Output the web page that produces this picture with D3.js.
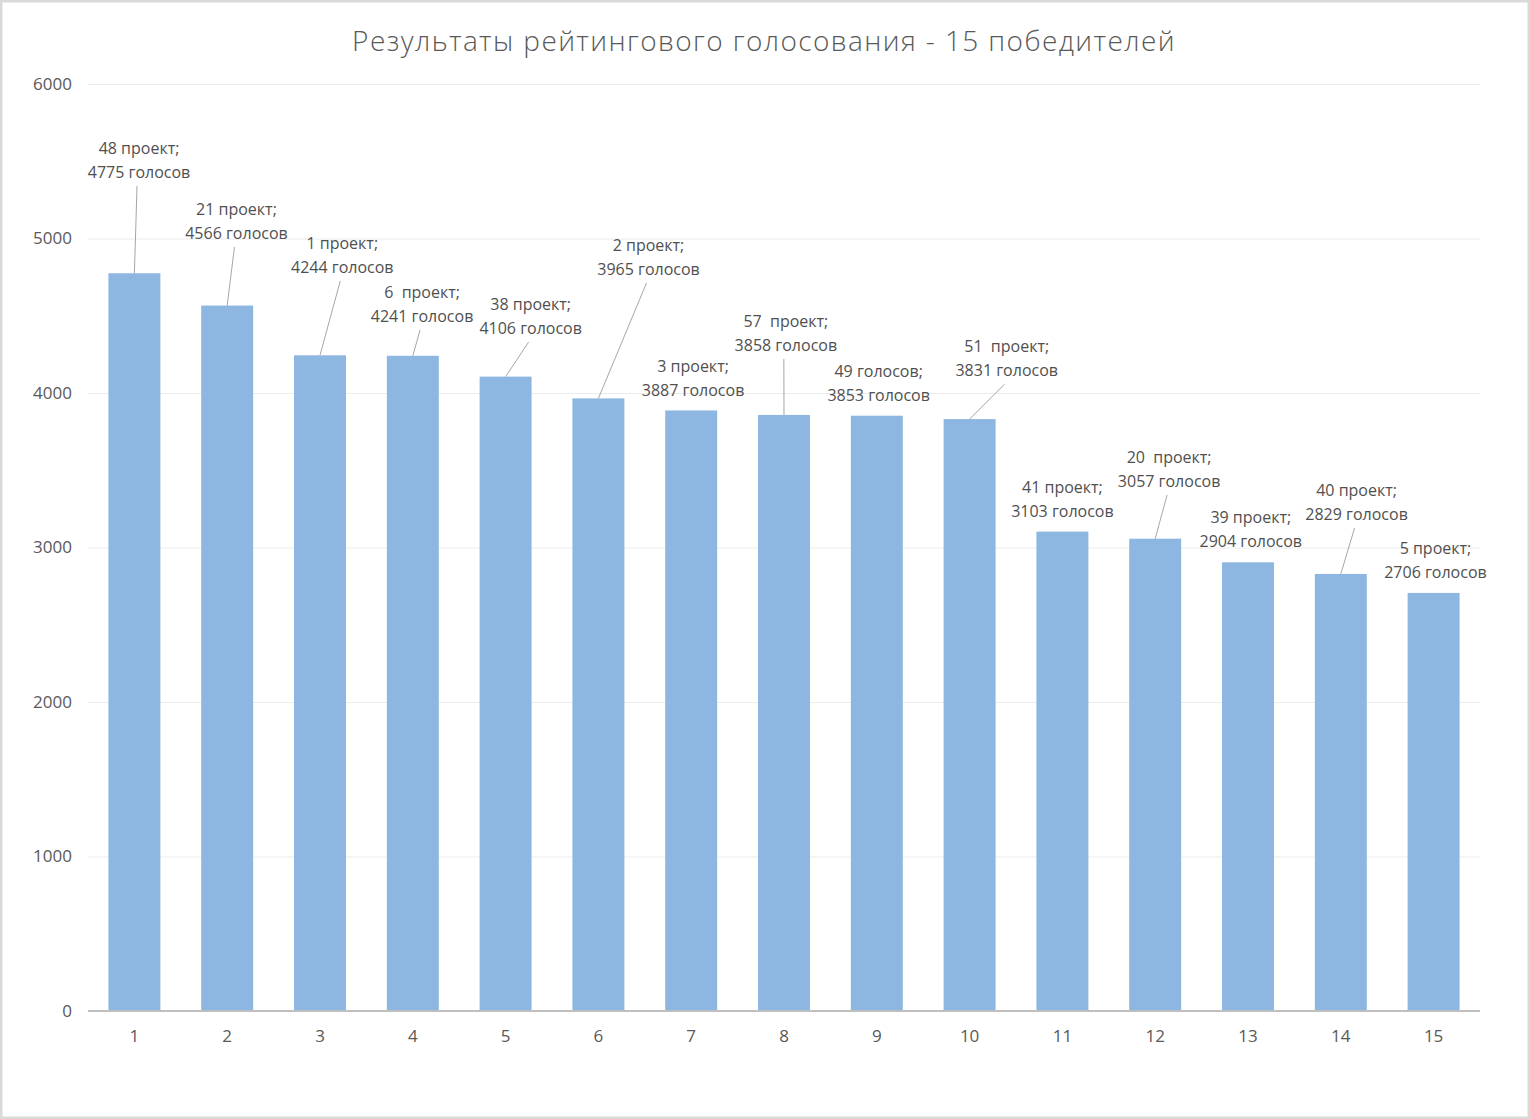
<!DOCTYPE html>
<html>
<head>
<meta charset="utf-8">
<script src="https://cdn.jsdelivr.net/npm/d3@7"></script>
<style>
  html, body { margin: 0; padding: 0; background: #ffffff; }
  svg { display: block; }
  text { font-family: "Open Sans", "Liberation Sans", sans-serif; }
</style>
</head>
<body>
<svg id="chart" width="1530" height="1119"></svg>
<script>
// ---- data ----
const titleText = "Результаты рейтингового голосования - 15 победителей";
const categories = ["1","2","3","4","5","6","7","8","9","10","11","12","13","14","15"];
const votes = [4775, 4566, 4244, 4241, 4106, 3965, 3887, 3858, 3853, 3831, 3103, 3057, 2904, 2829, 2706];
const labelLine1 = ["48 проект;", "21 проект;", "1 проект;", "6  проект;", "38 проект;", "2 проект;", "3 проект;", "57  проект;", "49 голосов;", "51  проект;", "41 проект;", "20  проект;", "39 проект;", "40 проект;", "5 проект;"];
const labelLine2 = ["4775 голосов", "4566 голосов", "4244 голосов", "4241 голосов", "4106 голосов", "3965 голосов", "3887 голосов", "3858 голосов", "3853 голосов", "3831 голосов", "3103 голосов", "3057 голосов", "2904 голосов", "2829 голосов", "2706 голосов"];
const yTicks = [0, 1000, 2000, 3000, 4000, 5000, 6000];

// ---- label layout (annotation placement, in data units / band fractions) ----
const labelValue = [5586, 5191, 4971, 4654, 4576, 4958, 4175, 4466, 4142, 4304, 3392, 3586, 3197, 3372, 2997];
const labelShift = [0.05, 0.10, 0.24, 0.10, 0.27, 0.54, 0.02, 0.02, 0.02, 0.40, 0.0, 0.15, 0.03, 0.17, 0.02];
const hasLeader = [true, true, true, true, true, true, false, true, false, true, false, true, false, true, false];

// ---- drawing ----
const W = 1530, H = 1119;
const margin = { left: 88, right: 50, top: 84, bottom: 108 };
const svg = d3.select("#chart");

// border
svg.append("rect").attr("x", 1).attr("y", 1).attr("width", W - 2).attr("height", H - 2)
  .attr("fill", "#ffffff").attr("stroke", "#d9d9d9").attr("stroke-width", 3);

const x = d3.scaleBand().domain(categories).range([margin.left, W - margin.right]).paddingInner(0.44).paddingOuter(0.22);
const y = d3.scaleLinear().domain([0, 6000]).range([H - margin.bottom, margin.top]);

// gridlines
const yAxisG = svg.append("g").attr("transform", `translate(${margin.left},0)`)
  .call(d3.axisLeft(y).tickValues(yTicks).tickSize(-(W - margin.right - margin.left)).tickPadding(16).tickFormat(d3.format("d")));
yAxisG.select(".domain").remove();
yAxisG.selectAll(".tick line").attr("stroke", "#ececec").attr("stroke-width", 1);
yAxisG.selectAll(".tick text").attr("fill", "#595959").attr("font-size", 17);

// bars
svg.append("g").selectAll("rect").data(votes).join("rect")
  .attr("x", (d, i) => x(categories[i]))
  .attr("y", d => y(d))
  .attr("width", x.bandwidth())
  .attr("height", d => y(0) - y(d))
  .attr("fill", "#8db6e0");

// x axis
const xAxisG = svg.append("g").attr("transform", `translate(0,${y(0)})`)
  .call(d3.axisBottom(x).tickSize(0).tickPadding(19));
xAxisG.select(".domain").attr("stroke", "#bfbfbf").attr("stroke-width", 2)
  .attr("d", `M${margin.left},0H${W - margin.right}`);
xAxisG.selectAll(".tick text").attr("fill", "#595959").attr("font-size", 17);

// labels
const lg = svg.append("g");
votes.forEach((v, i) => {
  const cx = x(categories[i]) + x.bandwidth() / 2;
  const lx = cx + labelShift[i] * x.step();
  const ly = y(labelValue[i]);
  const t = lg.append("text").attr("text-anchor", "middle").attr("fill", "#505050")
    .attr("font-size", 16).style("white-space", "pre");
  t.append("tspan").attr("x", lx).attr("y", ly + 6).text(labelLine1[i]);
  t.append("tspan").attr("x", lx).attr("y", ly + 30).text(labelLine2[i]);
  if (hasLeader[i]) {
    lg.append("line")
      .attr("x1", lx - 2).attr("y1", ly + 38)
      .attr("x2", cx).attr("y2", y(v))
      .attr("stroke", "#a6a6a6").attr("stroke-width", 1);
  }
});

// title
svg.append("text").attr("x", 764).attr("y", 51).attr("text-anchor", "middle")
  .attr("fill", "#595959").attr("font-size", 28).attr("font-weight", 300)
  .attr("letter-spacing", 1.4).text(titleText);
</script>
</body>
</html>
